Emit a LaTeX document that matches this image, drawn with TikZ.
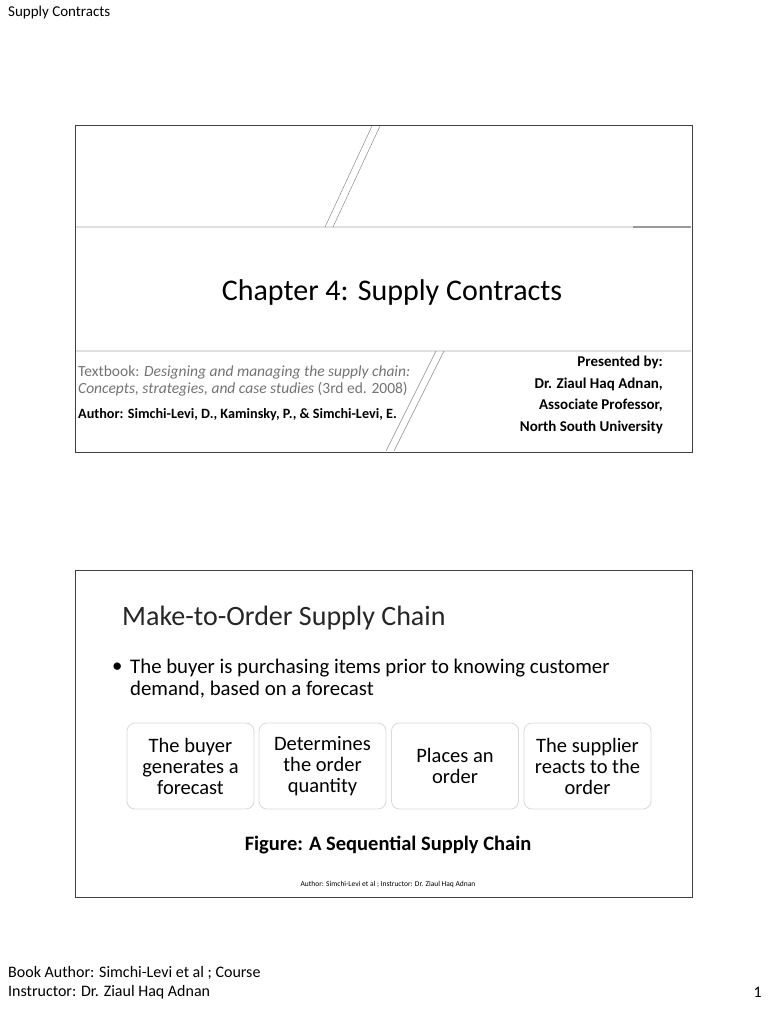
\documentclass[tikz,border=0pt]{standalone}
\usepackage{fontspec}
\setmainfont{Carlito}
\begin{document}
\begin{tikzpicture}[x=1pt,y=-1pt,
  slide/.style={draw=black!75,line width=0.9pt},
  thin/.style={draw=black!45,line width=0.5pt},
  sep/.style={draw=black!12,line width=1.2pt},
  proc/.style={draw=black!15,rounded corners=8pt,line width=0.8pt,minimum width=127pt,minimum height=86pt,align=center,font=\fontsize{20.5}{21}\selectfont,inner sep=0pt},
  every node/.style={inner sep=0pt}]
\useasboundingbox (0,0) rectangle (768,1024);
\node[anchor=west,font=\fontsize{15}{16}\selectfont] (hdr) at (8,13) {Supply Contracts};
% slide 1
\draw[slide] (75,125) rectangle (692,452);
\draw[sep] (76,227) -- (691,227);
\draw[draw=black!40,line width=1.5pt] (633,227) -- (691,227);
\draw[sep] (76,351) -- (691,351);
\draw[thin] (372,126) -- (325,227);
\draw[thin] (380,126) -- (333,227);
\draw[thin] (436,351) -- (386,451);
\draw[thin] (444,351) -- (394,451);
\node[font=\fontsize{30}{34}\selectfont] (title) at (392,293) {Chapter 4: Supply Contracts};
\node[anchor=west,font=\fontsize{15.5}{18}\selectfont,text=black!55] (tb1) at (78,372) {Textbook: \textit{Designing and managing the supply chain:}};
\node[anchor=west,font=\fontsize{15.5}{18}\selectfont,text=black!55] (tb2) at (78,389) {\textit{Concepts, strategies, and case studies} (3rd ed. 2008)};
\node[anchor=west,font=\fontsize{14.2}{16}\selectfont\bfseries] (au) at (78,415) {Author: Simchi-Levi, D., Kaminsky, P., \& Simchi-Levi, E.};
\begin{scope}[every node/.style={anchor=east,font=\fontsize{15}{17}\selectfont\bfseries,inner sep=0pt}]
\node (p1) at (663,362) {Presented by:};
\node (p2) at (663,384) {Dr. Ziaul Haq Adnan,};
\node (p3) at (663,405) {Associate Professor,};
\node (p4) at (663,427) {North South University};
\end{scope}
% slide 2
\draw[slide] (75,570) rectangle (692,897);
\node[anchor=west,font=\fontsize{28}{30}\selectfont,text=black!85] (t2) at (122,618) {Make-to-Order Supply Chain};
\node[anchor=west,font=\fontsize{20.8}{22}\selectfont] (bul) at (112,668) {•};
\node[anchor=west,font=\fontsize{20.8}{22}\selectfont] (b1) at (130,668) {The buyer is purchasing items prior to knowing customer};
\node[anchor=west,font=\fontsize{20.8}{22}\selectfont] (b2) at (130,690) {demand, based on a forecast};
\node[proc] (s1) at (190.5,766) {The buyer\\generates a\\forecast};
\node[proc] (s2) at (322.5,766) {Determines\\the order\\quantity};
\node[proc] (s3) at (455,766) {Places an\\order};
\node[proc] (s4) at (587.5,766) {The supplier\\reacts to the\\order};
\node[font=\fontsize{20.5}{22}\selectfont\bfseries] (cap) at (388,845) {Figure: A Sequential Supply Chain};
\node[font=\fontsize{7.5}{8}\selectfont] (ft) at (388,884) {Author: Simchi-Levi et al ; Instructor: Dr. Ziaul Haq Adnan};
% page footer
\node[anchor=west,font=\fontsize{16}{18}\selectfont] (f1) at (8,973) {Book Author: Simchi-Levi et al ; Course};
\node[anchor=west,font=\fontsize{16}{18}\selectfont] (f2) at (8,992) {Instructor: Dr. Ziaul Haq Adnan};
\node[anchor=east,font=\fontsize{16}{18}\selectfont] (pg) at (762,992) {1};
\end{tikzpicture}
\end{document}
